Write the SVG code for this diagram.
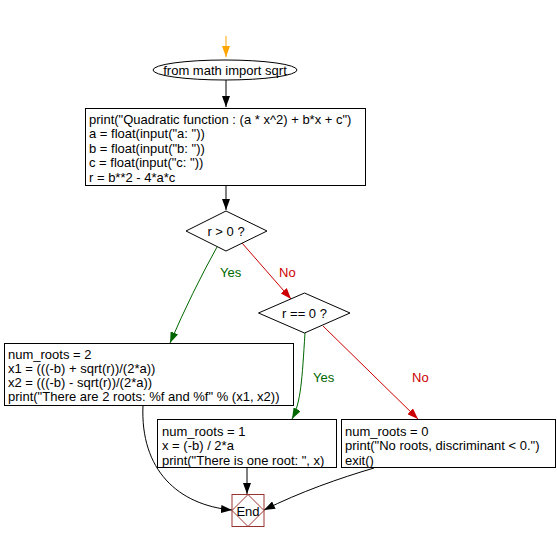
<svg xmlns="http://www.w3.org/2000/svg" width="557" height="542" viewBox="0 0 557 542">
<style>
text{font-family:"Liberation Sans",Arial,sans-serif;font-size:13px;fill:#000}
.box{fill:#fff;stroke:#000;stroke-width:1}
.c{text-anchor:middle}
.ln{fill:none;stroke:#000;stroke-width:1}
.g{stroke:#006600}
.r{stroke:#cc0000}
.o{stroke:#ffa500}
.yes{fill:#006600}
.no{fill:#cc0000}
</style>
<defs>
<marker id="ab" viewBox="0 0 11 8" refX="11" refY="4" markerWidth="11" markerHeight="8" markerUnits="userSpaceOnUse" orient="auto"><path d="M0,0 L11,4 L0,8 z" fill="#000"/></marker>
<marker id="ag" viewBox="0 0 11 8" refX="11" refY="4" markerWidth="11" markerHeight="8" markerUnits="userSpaceOnUse" orient="auto"><path d="M0,0 L11,4 L0,8 z" fill="#006600"/></marker>
<marker id="ar" viewBox="0 0 11 8" refX="11" refY="4" markerWidth="11" markerHeight="8" markerUnits="userSpaceOnUse" orient="auto"><path d="M0,0 L11,4 L0,8 z" fill="#cc0000"/></marker>
<marker id="ao" viewBox="0 0 11 8" refX="11" refY="4" markerWidth="11" markerHeight="8" markerUnits="userSpaceOnUse" orient="auto"><path d="M0,0 L11,4 L0,8 z" fill="#ffa500"/></marker>
</defs>
<rect width="557" height="542" fill="#fff"/>
<g id="connectors">
<path class="ln o" d="M226,36 L226,57" marker-end="url(#ao)"/>
<path class="ln" d="M226,80 L226,107" marker-end="url(#ab)"/>
<path class="ln" d="M226,185 L226,210" marker-end="url(#ab)"/>
<path class="ln g" d="M217,247 Q192,292 170,343" marker-end="url(#ag)"/>
<text class="yes" x="220" y="277">Yes</text>
<path class="ln r" d="M242,243 L291,299" marker-end="url(#ar)"/>
<text class="no" x="279" y="277">No</text>
<path class="ln g" d="M305,333 C302,380 301,402 292,419" marker-end="url(#ag)"/>
<text class="yes" x="313" y="382">Yes</text>
<path class="ln r" d="M323,326 L418,419" marker-end="url(#ar)"/>
<text class="no" x="412" y="382">No</text>
<path class="ln" d="M143,405 C140,470 178,505 232,510" marker-end="url(#ab)"/>
<path class="ln" d="M247,467 L247,494" marker-end="url(#ab)"/>
<path class="ln" d="M374,468 C340,478 300,492 264,510" marker-end="url(#ab)"/>
</g>
<g id="start">
<ellipse cx="225" cy="70" rx="72" ry="10" fill="#fff" stroke="#000"/>
<text class="c" x="225" y="74.5">from math import sqrt</text>
</g>
<g id="input">
<rect class="box" x="85.5" y="108.5" width="280" height="77"/>
<text x="89" y="123.5">print("Quadratic function : (a * x^2) + b*x + c")</text>
<text x="89" y="138">a = float(input("a: "))</text>
<text x="89" y="152.5">b = float(input("b: "))</text>
<text x="89" y="167">c = float(input("c: "))</text>
<text x="89" y="181.5">r = b**2 - 4*a*c</text>
</g>
<g id="cond1">
<polygon points="226,211 267,231 226,251 186,231" fill="#fff" stroke="#000"/>
<text class="c" x="226" y="235.5">r &gt; 0 ?</text>
</g>
<g id="cond2">
<polygon points="304.5,293 350,313 304.5,333 258.5,313" fill="#fff" stroke="#000"/>
<text class="c" x="304.5" y="317.5">r == 0 ?</text>
</g>
<g id="two">
<rect class="box" x="4.5" y="343.5" width="289" height="62"/>
<text x="8" y="358.5">num_roots = 2</text>
<text x="8" y="372.5">x1 = (((-b) + sqrt(r))/(2*a))</text>
<text x="8" y="386.5">x2 = (((-b) - sqrt(r))/(2*a))</text>
<text x="8" y="400.5">print("There are 2 roots: %f and %f" % (x1, x2))</text>
</g>
<g id="one">
<rect class="box" x="157.5" y="419.5" width="179" height="48"/>
<text x="162" y="435.5">num_roots = 1</text>
<text x="162" y="450">x = (-b) / 2*a</text>
<text x="162" y="464.5">print("There is one root: ", x)</text>
</g>
<g id="zero">
<rect class="box" x="341.5" y="419.5" width="214" height="48"/>
<text x="345" y="435.5">num_roots = 0</text>
<text x="345" y="450">print("No roots, discriminant &lt; 0.")</text>
<text x="345" y="464.5">exit()</text>
</g>
<g id="end">
<rect x="232" y="494.5" width="32" height="32" fill="#fff" stroke="#993333"/>
<polygon points="248,494.5 264,510.5 248,526.5 232,510.5" fill="none" stroke="#993333"/>
<text class="c" x="248" y="515.5">End</text>
</g>
</svg>
